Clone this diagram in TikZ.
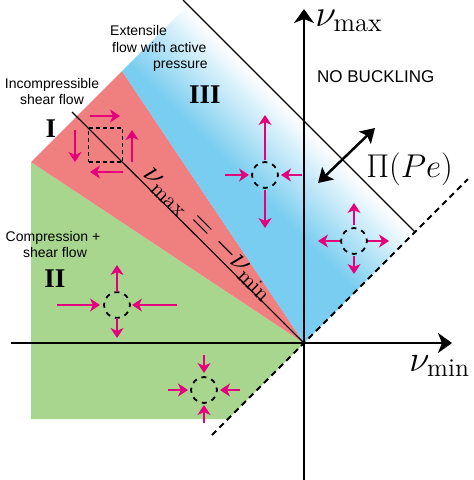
\documentclass[tikz,border=0pt]{standalone}
\usepackage{fontspec}
\setsansfont{Liberation Sans}
\newfontfamily\numfont{Liberation Serif}
\usetikzlibrary{arrows.meta,calc}
\definecolor{regred}{RGB}{240,128,128}
\definecolor{reggreen}{RGB}{168,214,142}
\definecolor{regblue}{RGB}{120,205,240}
\definecolor{pk}{RGB}{228,0,124}
\begin{document}
\begin{tikzpicture}[x=1pt,y=-1pt,
  pkarrow/.style={draw=pk, line width=1.6pt, -{Stealth[length=10pt,width=13pt,inset=3pt]}},
  dcirc/.style={circle, draw=black, line width=1.8pt, dash pattern=on 5.1pt off 5.1pt, dash phase=2.55pt, minimum size=26pt, inner sep=0pt},
  dsq/.style={rectangle, draw=black, line width=1.8pt, dash pattern=on 4pt off 3pt, minimum size=34pt, inner sep=0pt},
  lab/.style={font=\sffamily\fontsize{14}{17}\selectfont, inner sep=0pt},
  roman/.style={font=\numfont\bfseries\fontsize{27}{30}\selectfont, inner sep=0pt},
  axisline/.style={line width=2pt, -{Stealth[length=14pt,width=20pt,inset=4pt]}},
  mlab/.style={inner sep=0pt, font=\fontsize{20.74}{25}\selectfont},
]
\useasboundingbox (0,0) rectangle (474,480);
% key points
\coordinate (O) at (304,343);
\coordinate (A) at (31,162);
\coordinate (B) at (122,71);
\coordinate (C) at (188,5);
\coordinate (D) at (415,232);
\coordinate (E) at (183,0);
\coordinate (GB) at (31,419);
\coordinate (GR) at (228,419);
\coordinate (DL) at (212,435);
\coordinate (DU) at (468,179);
\coordinate (L1) at (72,112);
% regions
\fill[reggreen] (A) -- (GB) -- (GR) -- (O) -- cycle;
\fill[regred] (A) -- (B) -- (O) -- cycle;
\begin{scope}
  \clip (O) -- (B) -- (C) -- (D) -- cycle;
  \foreach \i in {0,...,95}{
    \pgfmathsetmacro{\fa}{-45+2.5*\i}
    \pgfmathsetmacro{\fb}{\fa+3}
    \pgfmathsetmacro{\t}{min(1,max(0,(\fa+1.25-65)/115))}
    \pgfmathsetmacro{\p}{100*(1-\t)}
    \fill[regblue!\p!white]
      ({\fa/2-600},{-\fa/2-600}) --
      ({\fa/2+600},{-\fa/2+600}) --
      ({\fb/2+600},{-\fb/2+600}) --
      ({\fb/2-600},{-\fb/2-600}) -- cycle;
  }
\end{scope}
% lines
\draw[line width=1.2pt] (E) -- (D);
\draw[line width=2pt, dash pattern=on 6pt off 4.5pt] (DL) -- (DU);
\draw[line width=1.1pt] (L1) -- (O);
% axes
\coordinate (XL) at (11,343);
\coordinate (XR) at (452,343);
\coordinate (YB) at (304,481);
\coordinate (YT) at (304,9);
\draw[axisline] (XL) -- (XR);
\draw[axisline] (YB) -- (YT);
% axis labels
\node[mlab, anchor=base west, scale=1.83] (numax) at (315,26) {$\nu_{\max}$};
\node[mlab, anchor=base west, scale=1.78] (numin) at (409,371) {$\nu_{\min}$};
\node[mlab, anchor=base west, scale=1.59] (pipe) at (366,177) {$\Pi(Pe)$};
\node[mlab, rotate=-45, scale=1.55] (diag) at (209,233) {$\nu_{\max}=-\nu_{\min}$};
% Pi double arrow
\coordinate (P1) at (318,183);
\coordinate (P2) at (375,128);
\draw[line width=2.5pt, {Stealth[length=14pt,width=17pt,inset=3pt]}-{Stealth[length=14pt,width=17pt,inset=3pt]}] (P1) -- (P2);
% text labels
\node[lab, anchor=base] (inc1) at (52,88) {Incompressible};
\node[lab, anchor=base] (inc2) at (52,104) {shear flow};
\node[lab, anchor=base west] (ext1) at (110,35) {Extensile};
\node[lab, anchor=base west] (ext2) at (112,52) {flow with active};
\node[lab, anchor=base west] (ext3) at (153,68) {pressure};
\node[lab, anchor=base] (cmp1) at (53,241) {Compression +};
\node[lab, anchor=base] (cmp2) at (55,257) {shear flow};
\node[inner sep=0pt, anchor=base west, font=\sffamily\fontsize{17}{20}\selectfont] (nob) at (317,82) {NO BUCKLING};
\node[roman, anchor=base] (r1) at (51,137) {I};
\node[roman, anchor=base] (r3) at (205,103) {III};
\node[roman, anchor=base] (r2) at (55,287) {II};
% glyph I: dashed square with shear arrows
\node[dsq] (sq) at (105.5,145) {};
\draw[pkarrow] ($(sq)+(-15.5,-29)$) -- ($(sq)+(14.5,-29)$);
\draw[pkarrow] ($(sq)+(26.5,17)$) -- ($(sq)+(26.5,-15)$);
\draw[pkarrow] ($(sq)+(17.5,27)$) -- ($(sq)+(-15.5,27)$);
\draw[pkarrow] ($(sq)+(-30.5,-15)$) -- ($(sq)+(-30.5,17)$);
% glyph III
\node[dcirc] (c3) at (265,175) {};
\draw[pkarrow] ($(c3)+(0,-15)$) -- ($(c3)+(0,-60)$);
\draw[pkarrow] ($(c3)+(0,15)$) -- ($(c3)+(0,53)$);
\draw[pkarrow] ($(c3)+(-40,0)$) -- ($(c3)+(-16,0)$);
\draw[pkarrow] ($(c3)+(37,0)$) -- ($(c3)+(16,0)$);
% glyph no buckling region
\node[dcirc] (c4) at (354,241) {};
\draw[pkarrow] ($(c4)+(0,-16)$) -- ($(c4)+(0,-38)$);
\draw[pkarrow] ($(c4)+(-14,0)$) -- ($(c4)+(-36,0)$);
\draw[pkarrow] ($(c4)+(14,0)$) -- ($(c4)+(35,0)$);
\draw[pkarrow] ($(c4)+(0,15)$) -- ($(c4)+(0,33)$);
% glyph II
\node[dcirc] (c2) at (117,305) {};
\draw[pkarrow] ($(c2)+(0,-13)$) -- ($(c2)+(0,-40)$);
\draw[pkarrow] ($(c2)+(0,13)$) -- ($(c2)+(0,33)$);
\draw[pkarrow] ($(c2)+(-60,0)$) -- ($(c2)+(-17,0)$);
\draw[pkarrow] ($(c2)+(60,0)$) -- ($(c2)+(15,0)$);
% glyph bottom
\node[dcirc] (c5) at (204,390) {};
\draw[pkarrow] ($(c5)+(0,-35)$) -- ($(c5)+(0,-17)$);
\draw[pkarrow] ($(c5)+(0,33)$) -- ($(c5)+(0,15)$);
\draw[pkarrow] ($(c5)+(-36,0)$) -- ($(c5)+(-16,0)$);
\draw[pkarrow] ($(c5)+(36,0)$) -- ($(c5)+(16,0)$);
\end{tikzpicture}
\end{document}
